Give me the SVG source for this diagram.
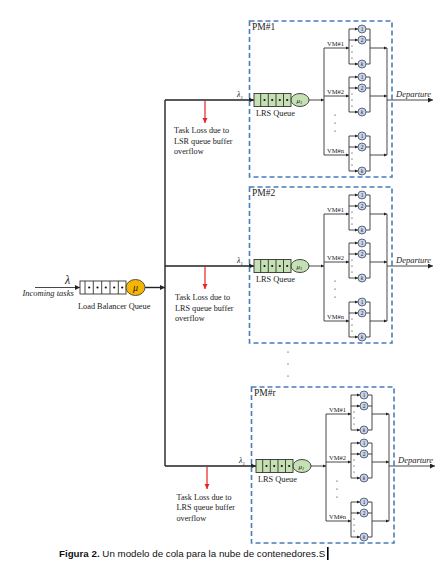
<svg xmlns="http://www.w3.org/2000/svg" width="442" height="565" viewBox="0 0 442 565">
<style>
.ln{stroke:#333;stroke-width:0.9;fill:none}
.tk{stroke:#222;stroke-width:1.4;fill:none}
.pmb{fill:none;stroke:#4a7db8;stroke-width:1.6;stroke-dasharray:5 3}
.q{fill:#c5e0b3;stroke:#333;stroke-width:0.9}
.lbq{fill:#fff;stroke:#333;stroke-width:0.9}
.dot{fill:#111}
.vc{fill:#c9d4e8;stroke:#3b4a63;stroke-width:0.8}
.vt{font-family:"Liberation Serif","Times New Roman",serif;font-size:5.5px;fill:#222;text-anchor:middle}
.t{font-family:"Liberation Serif","Times New Roman",serif;fill:#222}
.it{font-style:italic}
.red{stroke:#e8231f;stroke-width:1.2;fill:none}
</style>
<defs>
<marker id="ah" viewBox="0 0 6 6" refX="6" refY="3" markerWidth="5" markerHeight="5" markerUnits="userSpaceOnUse" orient="auto"><path d="M0,0L6,3L0,6z" fill="#222"/></marker>
<marker id="as" viewBox="0 0 6 6" refX="6" refY="3" markerWidth="3.5" markerHeight="3.5" markerUnits="userSpaceOnUse" orient="auto"><path d="M0,0L6,3L0,6z" fill="#222"/></marker>
<marker id="ar" viewBox="0 0 6 6" refX="6" refY="3" markerWidth="5" markerHeight="6" markerUnits="userSpaceOnUse" orient="auto"><path d="M0,0L6,3L0,6z" fill="#e8231f"/></marker>
<g id="vm">
<path class="ln" d="M349,0V35M370,0V35M366,0H370M366,11H370M366,35H370"/>
<line class="ln" x1="349" y1="0" x2="358" y2="0" marker-end="url(#as)"/>
<line class="ln" x1="349" y1="11" x2="358" y2="11" marker-end="url(#as)"/>
<line class="ln" x1="349" y1="35" x2="358" y2="35" marker-end="url(#as)"/>
<line class="ln" x1="324" y1="19" x2="349" y2="19" marker-end="url(#as)"/>
<line class="ln" x1="370" y1="19" x2="387" y2="19" marker-end="url(#as)"/>
<circle class="vc" cx="362" cy="0" r="4"/><circle class="vc" cx="362" cy="11" r="4"/><circle class="vc" cx="362" cy="35" r="4"/>
<text class="vt" x="362" y="2">1</text><text class="vt" x="362" y="13">2</text><text class="vt it" x="362" y="37">k</text>
<circle class="dot" cx="352" cy="17" r="0.55"/><circle class="dot" cx="352" cy="23" r="0.55"/><circle class="dot" cx="352" cy="29" r="0.55"/>
</g>
<g id="pmBody">
<rect class="pmb" x="249.5" y="21" width="142.5" height="156"/>
<rect class="q" x="254" y="93.5" width="37" height="13"/>
<path class="ln" d="M260.7,93.5V106.5M268.3,93.5V106.5M276,93.5V106.5M283.5,93.5V106.5"/>
<circle class="dot" cx="264.5" cy="100" r="1.1"/><circle class="dot" cx="272.2" cy="100" r="1.1"/><circle class="dot" cx="279.8" cy="100" r="1.1"/><circle class="dot" cx="287.2" cy="100" r="1.1"/>
<ellipse class="q" cx="300" cy="100" rx="9" ry="6.5"/>
<text class="t it" x="296.5" y="102.5" font-size="7" fill="#444">μ<tspan font-size="4.5" dy="1">1</tspan></text>
<text class="t" x="256" y="116" font-size="8.3">LRS Queue</text>
<line class="ln" x1="309" y1="100" x2="324" y2="100" marker-end="url(#as)"/>
<path class="ln" d="M324,48V155M387,48V155"/>
<use href="#vm" transform="translate(0,29)"/>
<use href="#vm" transform="translate(0,77)"/>
<use href="#vm" transform="translate(0,136)"/>
<text class="t" x="327" y="46" font-size="6.5">VM#1</text>
<text class="t" x="327" y="94" font-size="6.5">VM#2</text>
<text class="t" x="327" y="153" font-size="6.5">VM#n</text>
<circle class="dot" cx="335" cy="115" r="0.6"/><circle class="dot" cx="335" cy="123" r="0.6"/><circle class="dot" cx="335" cy="131" r="0.6"/>
<line class="ln" x1="387" y1="100" x2="433" y2="100" marker-end="url(#ah)"/>
<text class="t it" x="396" y="97" font-size="8.5">Departure</text>
</g>
</defs>

<g id="connectors">
<line class="ln" x1="35" y1="287.5" x2="80" y2="287.5" marker-end="url(#ah)"/>
<line class="tk" x1="145" y1="287.5" x2="165" y2="287.5" marker-end="url(#ah)"/>
<line class="tk" x1="165" y1="100" x2="165" y2="466"/>
<line class="tk" x1="165" y1="100" x2="254" y2="100" marker-end="url(#ah)"/>
<line class="tk" x1="165" y1="266" x2="254" y2="266" marker-end="url(#ah)"/>
<line class="tk" x1="165" y1="466" x2="256" y2="466" marker-end="url(#ah)"/>
<line class="red" x1="205" y1="101" x2="205" y2="123" marker-end="url(#ar)"/>
<line class="red" x1="205" y1="267" x2="205" y2="289" marker-end="url(#ar)"/>
<line class="red" x1="207" y1="467" x2="207" y2="489" marker-end="url(#ar)"/>
<text class="t it" x="237" y="97" font-size="8">λ<tspan font-size="5" dy="1.5">1</tspan></text>
<text class="t it" x="237" y="263" font-size="8">λ<tspan font-size="5" dy="1.5">1</tspan></text>
<text class="t it" x="239" y="463" font-size="8">λ<tspan font-size="5" dy="1.5">1</tspan></text>
<text class="t it" x="65" y="284" font-size="12">λ</text>
<text class="t it" x="22.5" y="296" font-size="8.5">Incoming tasks</text>
</g>

<g id="loss1"><text class="t" font-size="8.2"><tspan x="174" y="133">Task Loss due to</tspan><tspan x="174" y="143.5">LSR queue buffer</tspan><tspan x="174" y="154">overflow</tspan></text></g>
<g id="loss2"><text class="t" font-size="8.2"><tspan x="175" y="300">Task Loss due to</tspan><tspan x="175" y="310.5">LRS queue buffer</tspan><tspan x="175" y="321">overflow</tspan></text></g>
<g id="lossr"><text class="t" font-size="8.2"><tspan x="176.5" y="499.5">Task Loss due to</tspan><tspan x="176.5" y="510">LRS queue buffer</tspan><tspan x="176.5" y="520.5">overflow</tspan></text></g>

<g id="loadBalancer">
<rect class="lbq" x="80" y="281" width="46" height="13"/>
<path class="ln" d="M85,281V294M93.3,281V294M101.7,281V294M110,281V294M118.3,281V294"/>
<circle class="dot" cx="89.2" cy="287.5" r="1.1"/><circle class="dot" cx="97.5" cy="287.5" r="1.1"/><circle class="dot" cx="105.8" cy="287.5" r="1.1"/><circle class="dot" cx="114.2" cy="287.5" r="1.1"/><circle class="dot" cx="122.2" cy="287.5" r="1.1"/>
<ellipse cx="135.5" cy="287.5" rx="9.5" ry="8" fill="#f5b400" stroke="#444" stroke-width="0.9"/>
<text class="t it" x="135.5" y="291" font-size="10" text-anchor="middle" fill="#5a3a00">μ</text>
<text class="t" x="78" y="309" font-size="8.3">Load Balancer Queue</text>
</g>

<g id="pm1"><use href="#pmBody"/><text class="t" x="252" y="30" font-size="9.5">PM#1</text></g>
<g id="pm2"><use href="#pmBody" transform="translate(0,166)"/><text class="t" x="252" y="196" font-size="9.5">PM#2</text></g>
<g id="pmr"><use href="#pmBody" transform="translate(2,366)"/><text class="t" x="254" y="396" font-size="9.5">PM#r</text></g>

<g id="moreDots"><circle class="dot" cx="288" cy="352" r="0.6"/><circle class="dot" cx="288" cy="364" r="0.6"/><circle class="dot" cx="288" cy="376" r="0.6"/></g>

<g id="caption">
<text x="59" y="557" font-family="'Liberation Sans', Arial, sans-serif" font-size="9.75" fill="#111"><tspan font-weight="bold">Figura 2.</tspan> Un modelo de cola para la nube de contenedores.S</text>
<rect x="327" y="547" width="1.6" height="13" fill="#000"/>
</g>
</svg>
